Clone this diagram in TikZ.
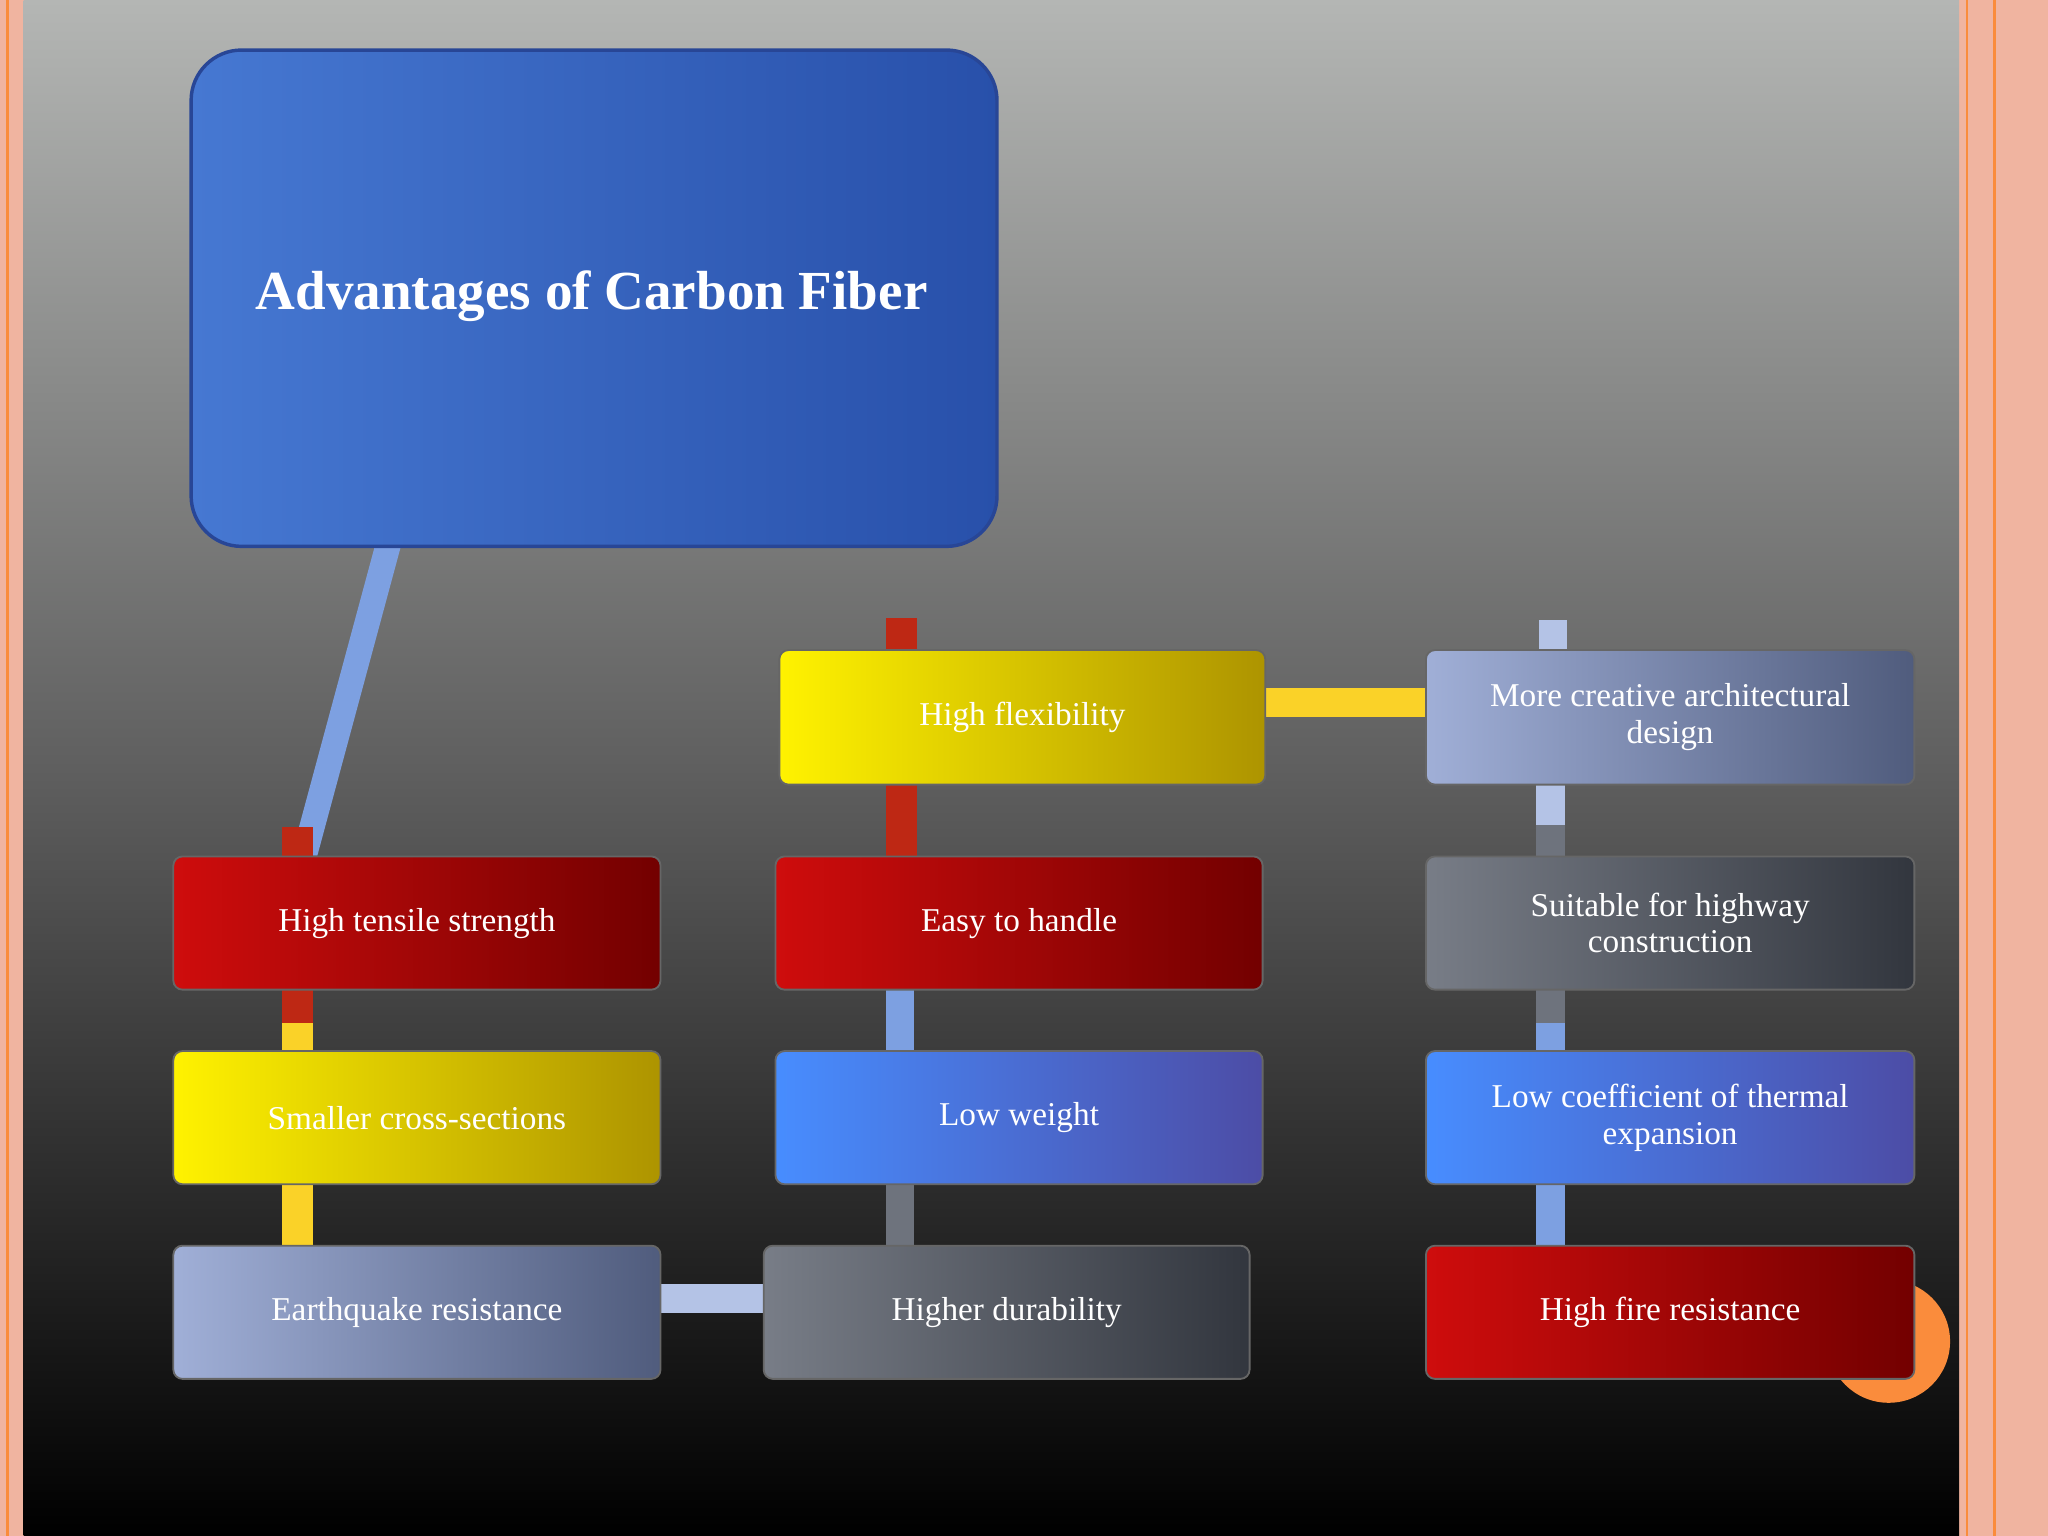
\documentclass[tikz,border=0pt]{standalone}
\usepackage{fontspec}
\setmainfont{Liberation Serif}
\begin{document}
\begin{tikzpicture}[x=0.02cm,y=-0.02cm,
  box/.style={draw=black!60,line width=0.8pt,rounded corners=4pt,text=white,font=\fontsize{14.5}{16}\selectfont,align=center,anchor=north west,inner sep=0pt},
  redb/.style={box,left color=red!80!black!95!white,right color=red!45!black},
  yelb/.style={box,left color=yellow!90!orange,right color=yellow!60!black!80!orange},
  blub/.style={box,left color=blue!35!cyan!60!white!70!blue,right color=blue!50!black!70!white},
  lgb/.style={box,left color={rgb,255:red,160;green,175;blue,215},right color={rgb,255:red,80;green,92;blue,125}},
  dgb/.style={box,left color={rgb,255:red,120;green,125;blue,135},right color={rgb,255:red,50;green,54;blue,62}},
  bar/.style={line width=0pt}]
\definecolor{peach}{RGB}{240,180,160}
\definecolor{orng}{RGB}{250,140,60}
\definecolor{cred}{RGB}{190,40,20}
\definecolor{cyel}{RGB}{250,210,40}
\definecolor{clb}{RGB}{125,160,225}
\definecolor{cpl}{RGB}{180,195,230}
\definecolor{cgr}{RGB}{110,115,125}
\useasboundingbox (0,0) rectangle (1568,1176);
\fill[peach] (0,0) rectangle (1568,1176);
\shade[top color={rgb,255:red,180;green,182;blue,180},bottom color=black,middle color={rgb,255:red,95;green,95;blue,95}] (18,0) rectangle (1500,1176);
\draw[orng,line width=1.2pt] (6,0)--(6,1176);
\draw[orng,line width=1.2pt] (1506,0)--(1506,1176);
\draw[orng,line width=1.2pt] (1527,0)--(1527,1176);
\fill[orng] (1446,1027) circle (47);
% connectors
\fill[clb] (287,418)--(307,418)--(243,655)--(223,655)--cycle;
\fill[cred] (216,633) rectangle (240,657);
\fill[cred] (216,757) rectangle (240,783);
\fill[cyel] (216,783) rectangle (240,804);
\fill[cyel] (216,906) rectangle (240,953);
\fill[cpl] (505,983) rectangle (584,1005);
\fill[cred] (678,473) rectangle (702,497);
\fill[cred] (678,600) rectangle (702,655);
\fill[clb] (678,757) rectangle (700,804);
\fill[cgr] (678,906) rectangle (700,953);
\fill[cyel] (966,527) rectangle (1093,549);
\fill[cpl] (1178,475) rectangle (1200,497);
\fill[cpl] (1176,600) rectangle (1198,632);
\fill[cgr] (1176,632) rectangle (1198,655);
\fill[cgr] (1176,757) rectangle (1198,783);
\fill[clb] (1176,783) rectangle (1198,804);
\fill[clb] (1176,906) rectangle (1198,953);
% main box
\node[box,rounded corners=22pt,line width=1.5pt,draw={rgb,255:red,40;green,70;blue,150},
  left color={rgb,255:red,70;green,120;blue,210},right color={rgb,255:red,40;green,80;blue,170},
  minimum width=617*0.02cm,minimum height=380*0.02cm] (main) at (145,37) {};
\node[text=white,font=\bfseries\fontsize{24}{28}\selectfont] (t) at (453,227) {Advantages of Carbon Fiber};
% boxes
\newcommand{\bx}[5]{\node[#1,minimum width=#4*0.02cm,minimum height=102*0.02cm] at (#2,#3) {}; }
\node[redb,minimum width=373*0.02cm,minimum height=102*0.02cm] (a1) at (132,655) {};
\node[text=white,font=\fontsize{14.5}{16}\selectfont] at (a1.center) {High tensile strength};
\node[yelb,minimum width=373*0.02cm,minimum height=102*0.02cm] (a2) at (132,804) {};
\node[text=white,font=\fontsize{14.5}{16}\selectfont] at (a2.center) {Smaller cross-sections};
\node[lgb,minimum width=373*0.02cm,minimum height=102*0.02cm] (a3) at (132,953) {};
\node[text=white,font=\fontsize{14.5}{16}\selectfont] at (a3.center) {Earthquake resistance};
\node[yelb,minimum width=372*0.02cm,minimum height=103*0.02cm] (b0) at (596,497) {};
\node[text=white,font=\fontsize{14.5}{16}\selectfont] at (b0.center) {High flexibility};
\node[redb,minimum width=373*0.02cm,minimum height=102*0.02cm] (b1) at (593,655) {};
\node[text=white,font=\fontsize{14.5}{16}\selectfont] at (b1.center) {Easy to handle};
\node[blub,minimum width=373*0.02cm,minimum height=102*0.02cm] (b2) at (593,804) {};
\node[text=white,font=\fontsize{14.5}{16}\selectfont] at (b2.center) {Low weight};
\node[dgb,minimum width=372*0.02cm,minimum height=102*0.02cm] (b3) at (584,953) {};
\node[text=white,font=\fontsize{14.5}{16}\selectfont] at (b3.center) {Higher durability};
\node[lgb,minimum width=374*0.02cm,minimum height=103*0.02cm] (c0) at (1091,497) {};
\node[text=white,font=\fontsize{14.5}{16}\selectfont,align=center] at (c0.center) {More creative architectural\\design};
\node[dgb,minimum width=374*0.02cm,minimum height=102*0.02cm] (c1) at (1091,655) {};
\node[text=white,font=\fontsize{14.5}{16}\selectfont,align=center] at (c1.center) {Suitable for highway\\construction};
\node[blub,minimum width=374*0.02cm,minimum height=102*0.02cm] (c2) at (1091,804) {};
\node[text=white,font=\fontsize{14.5}{16}\selectfont,align=center] at (c2.center) {Low coefficient of thermal\\expansion};
\node[redb,minimum width=374*0.02cm,minimum height=102*0.02cm] (c3) at (1091,953) {};
\node[text=white,font=\fontsize{14.5}{16}\selectfont] at (c3.center) {High fire resistance};
\end{tikzpicture}
\end{document}
